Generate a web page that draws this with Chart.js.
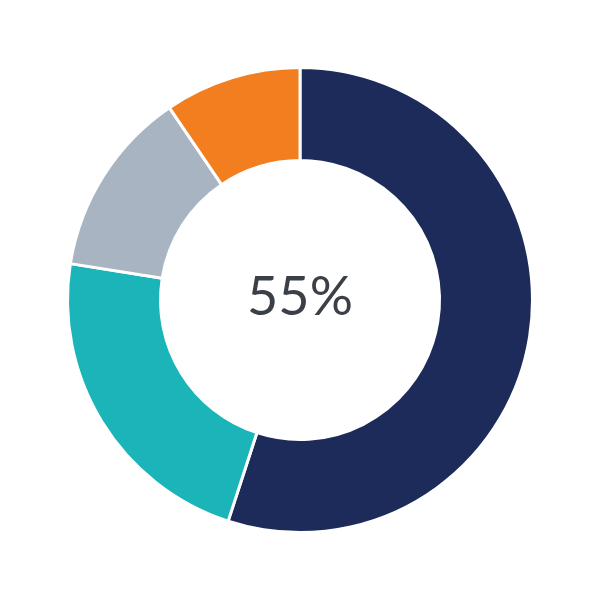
<!DOCTYPE html>
<html>
<head>
<meta charset="utf-8">
<script src="https://cdn.jsdelivr.net/npm/chart.js@4"></script>
<style>
  html, body { margin: 0; padding: 0; background: #fff; }
  #wrap { width: 600px; height: 600px; }
</style>
</head>
<body>
<div id="wrap"><canvas id="myChart" width="600" height="600"></canvas></div>
<script>
// chart data
const labels = ['Navy', 'Teal', 'Gray', 'Orange'];
const values = [55, 22.5, 13, 9.5];
const colors = ['#1c2b5a', '#1bb4b8', '#a9b4c2', '#f37e20'];
const centerLabel = '55%';

// Draws the big percentage in the middle of the ring
const centerText = {
    id: 'centerText',
    afterDraw(chart) {
        const ctx = chart.ctx;
        const meta = chart.getDatasetMeta(0).data[0];
        ctx.save();
        ctx.font = '400 54px Lato';
        ctx.fillStyle = '#3b3f48';
        ctx.textAlign = 'center';
        ctx.textBaseline = 'middle';
        ctx.fillText(centerLabel, meta.x, meta.y - 2);
        ctx.restore();
    }
};

new Chart(document.getElementById('myChart'), {
    type: 'doughnut',
    data: {
        labels: labels,
        datasets: [{
            data: values,
            backgroundColor: colors,
            borderColor: '#ffffff',
            borderWidth: 3
        }]
    },
    options: {
        responsive: false,
        animation: false,
        cutout: '60%',
        layout: { padding: 66 },
        plugins: {
            legend: { display: false },
            tooltip: { enabled: false }
        }
    },
    plugins: [centerText]
});
</script>
</body>
</html>
